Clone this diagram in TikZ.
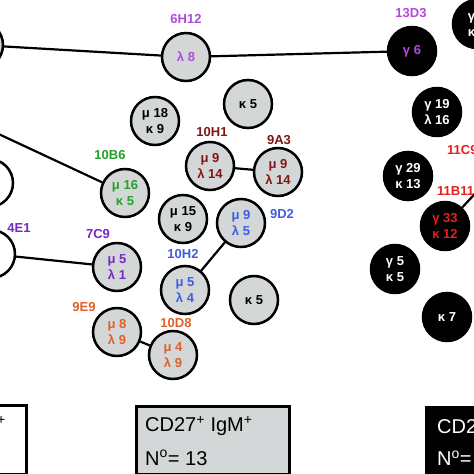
\documentclass[tikz,border=0pt]{standalone}
\usepackage{fontspec}
\setmainfont{Liberation Sans}
\definecolor{cgray}{RGB}{211,215,215}
\definecolor{cviolet}{RGB}{178,72,220}
\definecolor{cpurple}{RGB}{118,40,200}
\definecolor{cdarkred}{RGB}{130,22,22}
\definecolor{cgreen}{RGB}{40,160,40}
\definecolor{cblue}{RGB}{62,92,228}
\definecolor{corange}{RGB}{226,96,40}
\definecolor{cred}{RGB}{232,30,30}
\begin{document}
\begin{tikzpicture}[x=1pt,y=-1pt,
  gcirc/.style={circle, draw=black, line width=2.5pt, fill=cgray, minimum size=48pt, inner sep=0pt, align=center, font=\bfseries\fontsize{13}{16}\selectfont},
  bcirc/.style={gcirc, fill=black, text=white},
  wcirc/.style={gcirc, fill=white},
  lbl/.style={font=\bfseries\fontsize{13}{15}\selectfont, inner sep=0pt},
  link/.style={line width=2.2pt},
  boxs/.style={draw=black, line width=2.5pt, inner sep=0pt, anchor=north west},
  boxtxt/.style={font=\fontsize{20}{24}\selectfont, inner sep=0pt, anchor=west}]
\useasboundingbox (0,0) rectangle (474,474);
\clip (0,0) rectangle (474,474);
\fill[white] (0,0) rectangle (474,474);

% boxes
\node[boxs, fill=white, minimum width=80pt, minimum height=69pt] (bl) at (-55,404) {};
\node[boxs, fill=cgray, minimum width=153pt, minimum height=68pt] (bm) at (135,405) {};
\node[boxs, fill=black, minimum width=80pt, minimum height=67pt] (br) at (425,406) {};
\node[boxtxt, anchor=east] (blt) at (6,426) {IgM\textsuperscript{+}};
\node[boxtxt] (bmt1) at (145,426) {CD27\textsuperscript{+} IgM\textsuperscript{+}};
\node[boxtxt] (bmt2) at (145,458) {N\textsuperscript{o}= 13};
\node[boxtxt, text=white] (brt1) at (437,426) {CD27\textsuperscript{+}};
\node[boxtxt, text=white] (brt2) at (437,458) {N\textsuperscript{o}=};

% off-canvas / edge nodes
\node[gcirc] (lt) at (-21,45) {};
\node[wcirc] (wl1) at (-11,183) {};
\node[wcirc] (wl2) at (-9,254) {};
\coordinate (ext1) at (-40,116);
\coordinate (ext2) at (497,170);

% gray circles
\node[gcirc, text=cviolet] (n6H12) at (186,57) {λ 8};
\node[lbl, text=cviolet] (l6H12) at (186,19) {6H12};
\node[gcirc] (m18) at (155,121) {μ 18\\κ 9};
\node[gcirc] (k5a) at (248,104) {κ 5};
\node[gcirc, text=cdarkred] (n10H1) at (210,166) {μ 9\\λ 14};
\node[lbl, text=cdarkred] (l10H1) at (212,132) {10H1};
\node[gcirc, text=cdarkred] (n9A3) at (278,172) {μ 9\\λ 14};
\node[lbl, text=cdarkred] (l9A3) at (279,140) {9A3};
\node[gcirc, text=cgreen] (n10B6) at (125,193) {μ 16\\κ 5};
\node[lbl, text=cgreen] (l10B6) at (110,155) {10B6};
\node[gcirc] (m15) at (183,219) {μ 15\\κ 9};
\node[gcirc, text=cblue] (n9D2) at (241,223) {μ 9\\λ 5};
\node[lbl, text=cblue] (l9D2) at (282,214) {9D2};
\node[lbl, text=cpurple] (l4E1) at (19,228) {4E1};
\node[gcirc, text=cpurple] (n7C9) at (117,267) {μ 5\\λ 1};
\node[lbl, text=cpurple] (l7C9) at (98,234) {7C9};
\node[gcirc, text=cblue] (n10H2) at (185,290) {μ 5\\λ 4};
\node[lbl, text=cblue] (l10H2) at (183,254) {10H2};
\node[gcirc] (k5b) at (254,300) {κ 5};
\node[gcirc, text=corange] (n9E9) at (117,332) {μ 8\\λ 9};
\node[lbl, text=corange] (l9E9) at (84,307) {9E9};
\node[gcirc, text=corange] (n10D8) at (173,355) {μ 4\\λ 9};
\node[lbl, text=corange] (l10D8) at (176,323) {10D8};

% black circles
\node[bcirc, text=cviolet] (n13D3) at (412,51) {γ 6};
\node[lbl, text=cviolet] (l13D3) at (411,13) {13D3};
\node[bcirc] (g5k6) at (477,24) {γ 5\\κ 6};
\node[bcirc] (g19) at (437,112) {γ 19\\λ 16};
\node[lbl, text=cred, anchor=west] (l11C9) at (447,150) {11C9};
\node[bcirc] (g29) at (408,176) {γ 29\\κ 13};
\node[bcirc, text=cred] (n11B11) at (445,226) {γ 33\\κ 12};
\node[lbl, text=cred, anchor=west] (l11B11) at (437,191) {11B11};
\node[bcirc] (g5k5) at (395,269) {γ 5\\κ 5};
\node[bcirc] (k7) at (447,317) {κ 7};

% connectors
\draw[link] (lt) -- (n6H12);
\draw[link] (n6H12) -- (n13D3);
\draw[link] (ext1) -- (n10B6);
\draw[link] (n10H1) -- (n9A3);
\draw[link] (wl2) -- (n7C9);
\draw[link] (n10H2) -- (n9D2);
\draw[link] (n9E9) -- (n10D8);
\draw[link] (n11B11) -- (ext2);
\end{tikzpicture}
\end{document}
